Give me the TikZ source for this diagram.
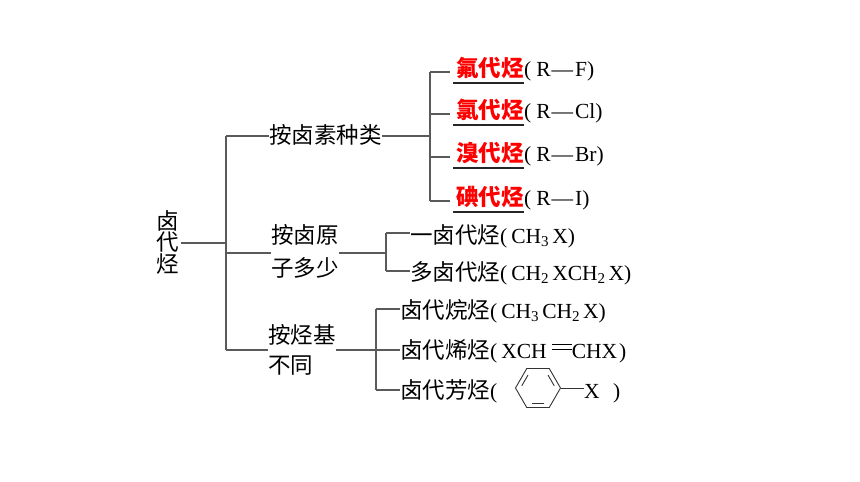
\documentclass[tikz,border=0pt]{standalone}
\usepackage{fontspec}
\setmainfont{Liberation Serif}
\newfontfamily\cjk{Noto Sans CJK SC}
\usetikzlibrary{calc}
\definecolor{lnc}{HTML}{5A5A5A}
\definecolor{hred}{HTML}{FF0000}
\newcommand\zh[1]{{\cjk\fontsize{22.5}{27}\selectfont #1}}
\newcommand\zhr[1]{{\cjk\bfseries\color{hred}\fontsize{22.5}{27}\selectfont #1}}
\newcommand\bnd{\hspace{1pt}—\hspace{2pt}}
\begin{document}
\begin{tikzpicture}[x=1pt,y=-1pt,
  ln/.style={draw=lnc,line width=1.1pt},
  bz/.style={draw=black!80,line width=0.9pt},
  txt/.style={inner sep=0pt,font=\fontsize{21.5}{25}\selectfont,anchor=base west},
  uline/.style={draw=black!85,line width=1.1pt}]
\fill[white] (0,0) rectangle (860,482);
\useasboundingbox (0,0) rectangle (860,482);

% root
\node[inner sep=0pt,font=\cjk\fontsize{22.5}{21.5}\selectfont,align=center] (root) at (168,242) {卤\\代\\烃};
\coordinate (t0) at (226,243);
\coordinate (t1) at (226,136);
\coordinate (t2) at (226,253);
\coordinate (t3) at (226,350);
\draw[ln] (t1) -- (t3);
\draw[ln] ([xshift=2pt]root.east |- t0) -- (t0);

% branch 1
\node[txt] (b1) at (269,143) {\zh{按卤素种类}};
\coordinate (j1) at (430,136);
\draw[ln] (t1) -- (t1 -| b1.west);
\draw[ln] (b1.east |- j1) -- (j1);
\coordinate (k1) at (430,72);
\coordinate (k2) at (430,114);
\coordinate (k3) at (430,157);
\coordinate (k4) at (430,201);
\draw[ln] (k1) -- (k4);

\node[txt] (r1) at (456,76.5) {\zhr{氟代烃}};
\node[txt] (p1) at (r1.base east) {(\hspace{5pt}R\bnd F)};
\node[txt] (r2) at (456,118.5) {\zhr{氯代烃}};
\node[txt] (p2) at (r2.base east) {(\hspace{5pt}R\bnd Cl)};
\node[txt] (r3) at (456,161.5) {\zhr{溴代烃}};
\node[txt] (p3) at (r3.base east) {(\hspace{5pt}R\bnd Br)};
\node[txt] (r4) at (456,205.5) {\zhr{碘代烃}};
\node[txt] (p4) at (r4.base east) {(\hspace{5pt}R\bnd I)};
\foreach \i in {1,2,3,4}{
  \draw[ln] (k\i) -- ([xshift=-6pt]r\i.west |- k\i);
  \draw[uline] ([xshift=-3pt,yshift=-6.5pt]r\i.base west) -- ([yshift=-6.5pt]r\i.base east);
}

% branch 2
\node[txt] (b2a) at (271,243.5) {\zh{按卤原}};
\node[txt] (b2b) at (271,276.5) {\zh{子多少}};
\coordinate (j2) at (386,253);
\coordinate (m1) at (386,233);
\coordinate (m2) at (386,271);
\draw[ln] (t2) -- (t2 -| b2a.west);
\draw[ln] (b2a.east |- j2) -- (j2);
\draw[ln] (m1) -- (m2);
\node[txt] (c1) at (410,243.5) {\zh{一卤代烃}(\hspace{4pt}CH\textsubscript{3}\hspace{3pt}X)};
\node[txt] (c2) at (410,280.5) {\zh{多卤代烃}(\hspace{4pt}CH\textsubscript{2}\hspace{3pt}XCH\textsubscript{2}\hspace{3pt}X)};
\draw[ln] (m1) -- (m1 -| c1.west);
\draw[ln] (m2) -- (m2 -| c2.west);

% branch 3
\node[txt] (b3a) at (268,343) {\zh{按烃基}};
\node[txt] (b3b) at (268,373) {\zh{不同}};
\coordinate (j3) at (376,350);
\coordinate (n1) at (376,309);
\coordinate (n2) at (376,350);
\coordinate (n3) at (376,390);
\draw[ln] (t3) -- (t3 -| b3a.west);
\draw[ln] (b3a.east |- t3) -- (j3);
\draw[ln] (n1) -- (n3);
\node[txt] (d1) at (400,318.5) {\zh{卤代烷烃}(\hspace{4pt}CH\textsubscript{3}\hspace{3pt}CH\textsubscript{2}\hspace{3pt}X)};
\node[txt] (d2) at (400,358) {\zh{卤代烯烃}(\hspace{4pt}XCH\hspace{5pt}\rlap{\raisebox{8pt}{\rule{20pt}{0.9pt}}}\raisebox{13pt}{\rule{20pt}{0.9pt}}CHX\hspace{2pt})};
\node[txt] (d3) at (400,398) {\zh{卤代芳烃}(};
\draw[ln] (n1) -- (n1 -| d1.west);
\draw[ln] (n2) -- (n2 -| d2.west);
\draw[ln] (n3) -- (n3 -| d3.west);

% benzene
\coordinate (bzc) at (538,388);
\coordinate (bzR) at ($(bzc)+(0:22.5)$);
\draw[bz] (bzR) -- ++(120:22.5) -- ++(180:22.5) -- ++(240:22.5) -- ++(300:22.5) -- ++(0:22.5) -- cycle;
\foreach \a/\b in {180/240,300/0,60/120}{
  \draw[bz,shorten >=2.5pt,shorten <=2.5pt] ($(bzc)+(\a:17.5)$) -- ($(bzc)+(\b:17.5)$);
}
\node[txt] (xn) at (584,398) {X};
\node[txt] (cp) at (613,398) {)};
\draw[bz] (bzR) -- (bzR -| xn.west);
\end{tikzpicture}
\end{document}
